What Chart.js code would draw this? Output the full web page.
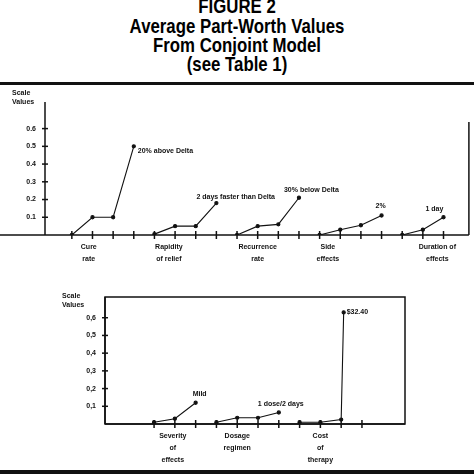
<!DOCTYPE html>
<html><head><meta charset="utf-8">
<script src="https://cdn.jsdelivr.net/npm/chart.js@4/dist/chart.umd.min.js"></script>
<style>
body{margin:0;width:474px;height:474px;background:#fff;position:relative;overflow:hidden;font-family:"Liberation Sans Narrow","Liberation Sans",Arial,sans-serif}
.t{position:absolute;left:0;width:474px;text-align:center;font-weight:bold;font-size:21px;line-height:19px;transform:scaleX(0.8)}
.rule{position:absolute;left:0;width:474px;height:3px;background:#111}
canvas{position:absolute;left:0}
</style></head><body>
<div class="t" style="top:-4px">FIGURE 2</div>
<div class="t" style="top:16px">Average Part-Worth Values</div>
<div class="t" style="top:35px">From Conjoint Model</div>
<div class="t" style="top:54px">(see Table 1)</div>
<div class="rule" style="top:82px"></div>
<div class="rule" style="top:470px;height:4px"></div>
<div style="position:absolute;top:85px;left:0;width:474px;height:185px"><canvas id="c1"></canvas></div>
<div style="position:absolute;top:290px;left:0;width:474px;height:180px"><canvas id="c2"></canvas></div>
<script>
// top chart data
const yTicks = [0.1,0.2,0.3,0.4,0.5,0.6];
const cureX = [0,1,2,3], cureY = [0,0.1,0.1,0.5];
const rapX = [4,5,6,7], rapY = [0.005,0.05,0.05,0.18];
const recX = [8,9,10,11], recY = [0,0.05,0.06,0.21];
const sideX = [12,13,14,15], sideY = [0,0.03,0.055,0.11];
const durX = [16,17,18], durY = [0,0.03,0.1];
const topCats = [[0.82,["Cure","rate"]],[4.7,["Rapidity","of relief"]],[9.0,["Recurrence","rate"]],[12.4,["Side","effects"]],[17.7,["Duration of","effects"]]];
const topNotes = [[3,0.5,"20% above Delta",4,8],[7,0.18,"2 days faster than Delta",-20,-3],[11,0.21,"30% below Delta",-15,-4],[15,0.11,"2%",-6,-6],[18,0.1,"1 day",-18,-5]];
// bottom chart data
const sevX = [0,1,2], sevY = [0.01,0.03,0.12];
const dosX = [3,4,5,6], dosY = [0.01,0.035,0.035,0.065];
const costX = [7,8,9,9.12], costY = [0.01,0.01,0.025,0.63];
const botCats = [[0.9,["Severity","of","effects"]],[4.0,["Dosage","regimen"]],[8.0,["Cost","of","therapy"]]];
const botNotes = [[2,0.12,"Mild",-3,-5],[6,0.065,"1 dose/2 days",-21,-5],[9.12,0.63,"$32.40",3,3]];

const F = '"Liberation Sans Narrow","Liberation Sans",Arial,sans-serif';
function ds(xs,ys){return {data:xs.map((x,i)=>({x:x,y:ys[i]})),borderColor:'#111',backgroundColor:'#111',borderWidth:1.1,pointRadius:1.6,tension:0};}
function axesPlugin(cfg){return {id:'ax',afterDraw(ch){
  const c=ch.ctx,a=ch.chartArea,xs=ch.scales.x,ys=ch.scales.y;
  c.save();c.strokeStyle='#111';c.fillStyle='#111';c.lineWidth=1.5;
  const y0=ys.getPixelForValue(0);
  c.beginPath();c.moveTo(a.left,a.top);c.lineTo(a.left,y0);c.stroke();
  if(cfg.box){c.strokeRect(a.left,a.top,a.right-a.left,y0-a.top);}
  else{c.beginPath();c.moveTo(a.right,a.top+20);c.lineTo(a.right,y0);c.stroke();}
  c.beginPath();c.moveTo(cfg.box?a.left:0,y0);c.lineTo(a.right,y0);c.stroke();
  c.font='bold 7px '+F;c.textAlign='right';c.textBaseline='middle';
  yTicks.forEach(v=>{const p=ys.getPixelForValue(v);c.fillText(String(v).replace('.',cfg.comma?',':'.'),a.left-9,p);
    c.beginPath();c.moveTo(a.left-3,p);c.lineTo(a.left+3,p);c.stroke();});
  for(let i=cfg.t0;i<=cfg.t1;i++){const p=xs.getPixelForValue(i);c.beginPath();c.moveTo(p,y0-4);c.lineTo(p,y0+4);c.stroke();}
  c.textAlign='center';c.textBaseline='top';
  cfg.cats.forEach(([x,ls])=>{const p=xs.getPixelForValue(x);ls.forEach((l,k)=>c.fillText(l,p,y0+9+k*12));});
  c.textAlign='left';c.textBaseline='bottom';
  cfg.notes.forEach(([x,y,t,dx,dy])=>{c.fillText(t,xs.getPixelForValue(x)+dx,ys.getPixelForValue(y)+dy);});
  c.fillText('Scale',cfg.sx,cfg.sy);c.fillText('Values',cfg.sx,cfg.sy+9);
  c.restore();}};}
function mk(id,sets,xmin,xmax,ymax,pad,cfg){
  new Chart(document.getElementById(id),{type:'line',data:{datasets:sets},
   options:{responsive:true,maintainAspectRatio:false,animation:false,layout:{padding:pad},
    plugins:{legend:{display:false},tooltip:{enabled:false}},
    scales:{x:{type:'linear',min:xmin,max:xmax,display:false},y:{min:0,max:ymax,display:false}}},
   plugins:[axesPlugin(cfg)]});}
mk('c1',[ds(cureX,cureY),ds(rapX,rapY),ds(recX,recY),ds(sideX,sideY),ds(durX,durY)],-1.3,19.23,0.75,
  {left:45,right:2,top:17,bottom:35},{box:false,t0:0,t1:18,cats:topCats,notes:topNotes,sx:12,sy:12,comma:false});
mk('c2',[ds(sevX,sevY),ds(dosX,dosY),ds(costX,costY)],-2.36,12.07,0.717,
  {left:105,right:69,top:7,bottom:46},{box:true,t0:0,t1:10,cats:botCats,notes:botNotes,sx:62,sy:10,comma:true});
</script></body></html>
